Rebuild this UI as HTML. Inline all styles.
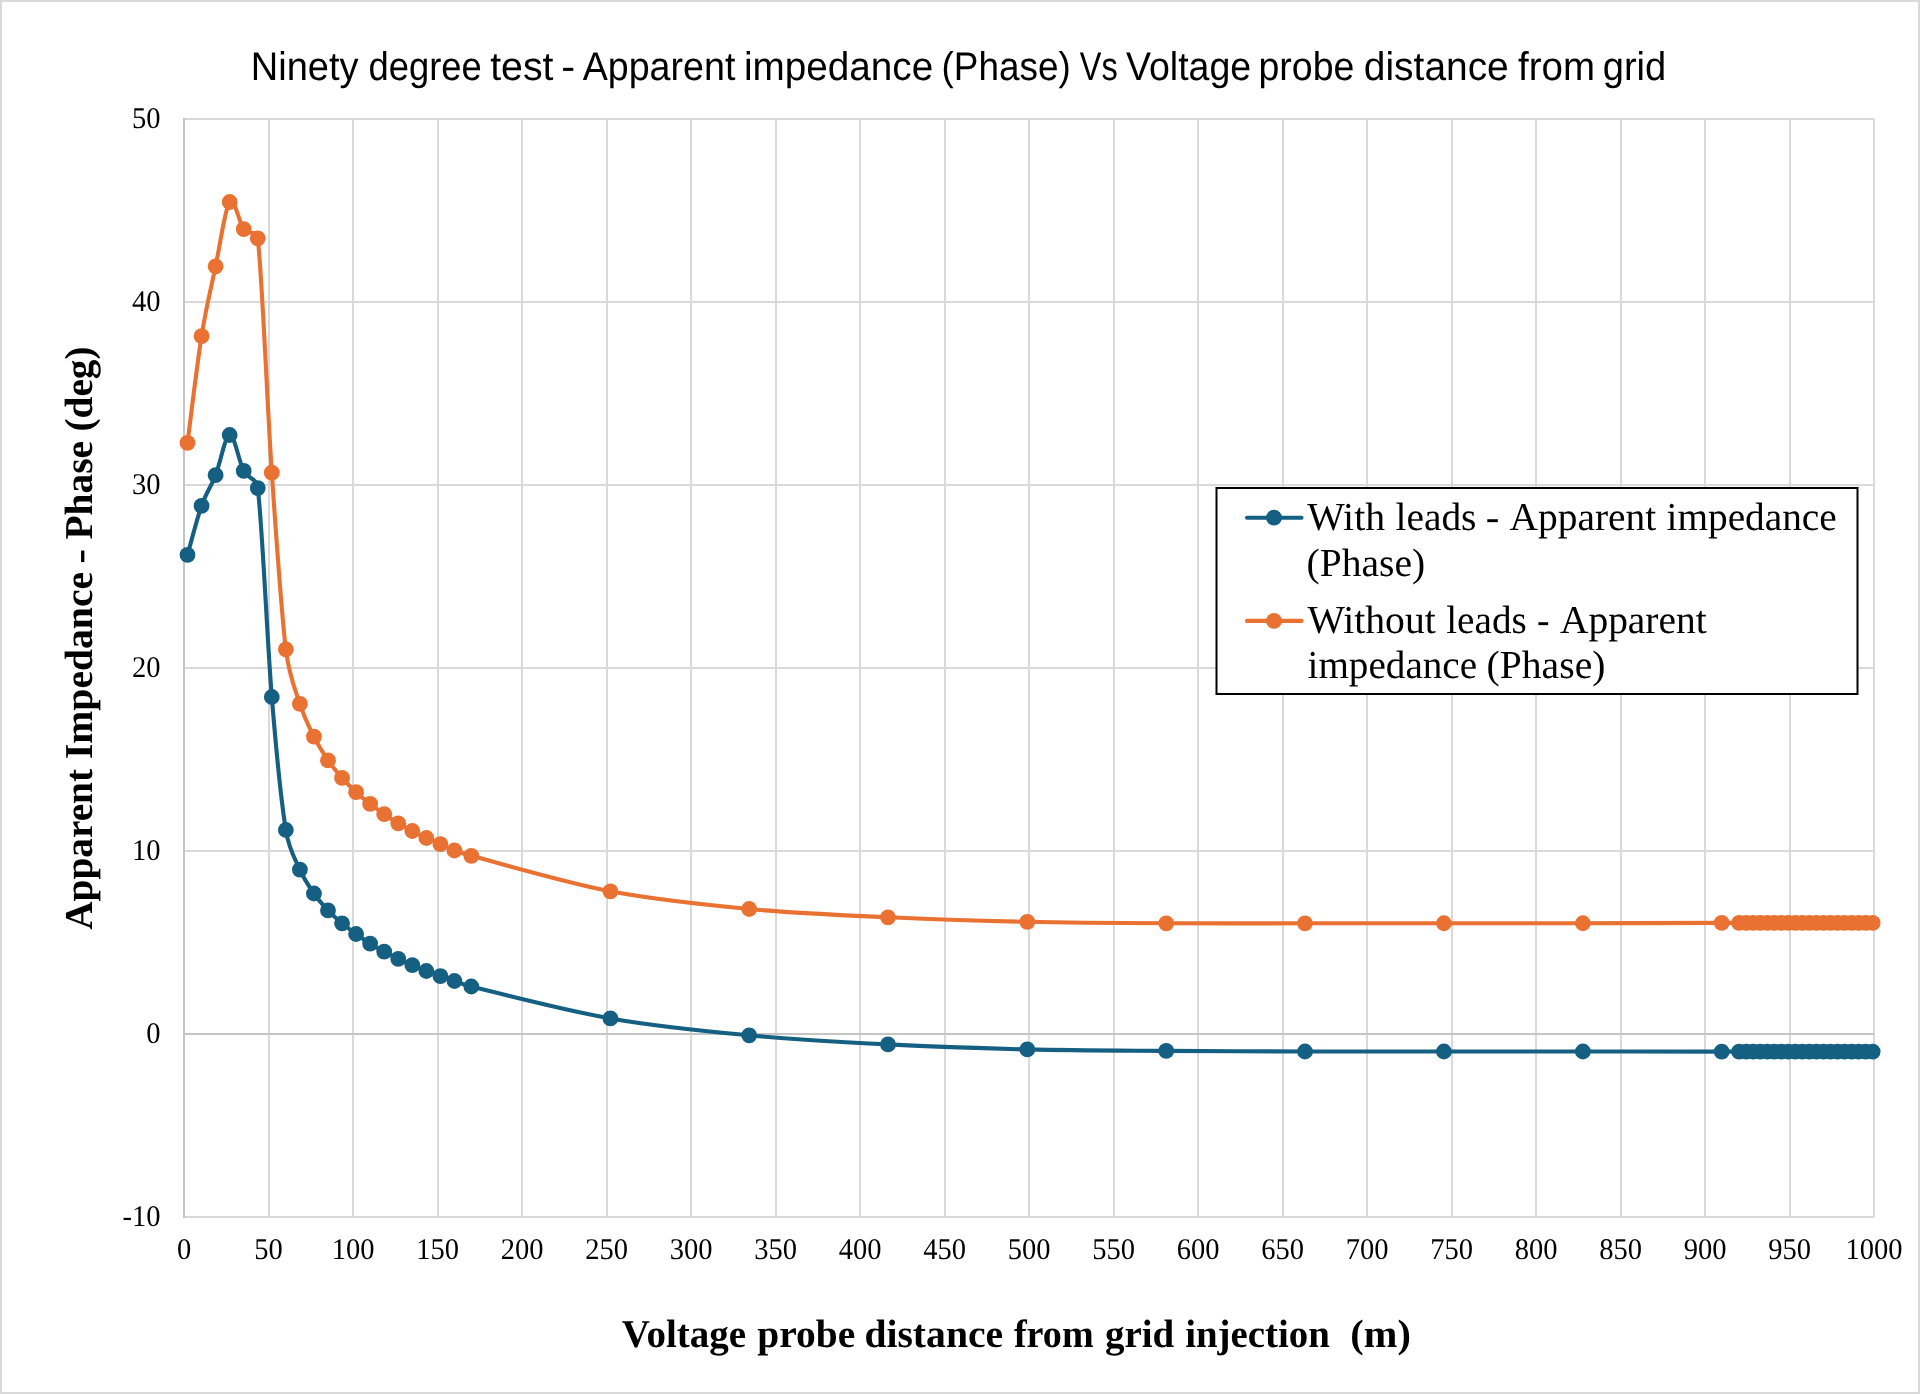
<!DOCTYPE html>
<html><head><meta charset="utf-8"><title>Ninety degree test chart</title>
<style>
html,body{margin:0;padding:0;background:#fff;width:1920px;height:1394px;overflow:hidden;font-family:"Liberation Sans",sans-serif;}
svg{display:block;will-change:transform;}
text{text-rendering:geometricPrecision;}
</style></head><body>
<svg width="1920" height="1394" viewBox="0 0 1920 1394">
<rect x="0" y="0" width="1920" height="1394" fill="#ffffff"/>
<rect x="1" y="1" width="1918" height="1392" fill="none" stroke="#d9d9d9" stroke-width="2"/>
<g stroke="#d9d9d9" stroke-width="2" fill="none"><line x1="269.00" y1="119.00" x2="269.00" y2="1217.00"/><line x1="353.00" y1="119.00" x2="353.00" y2="1217.00"/><line x1="438.00" y1="119.00" x2="438.00" y2="1217.00"/><line x1="522.00" y1="119.00" x2="522.00" y2="1217.00"/><line x1="607.00" y1="119.00" x2="607.00" y2="1217.00"/><line x1="691.00" y1="119.00" x2="691.00" y2="1217.00"/><line x1="776.00" y1="119.00" x2="776.00" y2="1217.00"/><line x1="860.00" y1="119.00" x2="860.00" y2="1217.00"/><line x1="945.00" y1="119.00" x2="945.00" y2="1217.00"/><line x1="1029.00" y1="119.00" x2="1029.00" y2="1217.00"/><line x1="1114.00" y1="119.00" x2="1114.00" y2="1217.00"/><line x1="1198.00" y1="119.00" x2="1198.00" y2="1217.00"/><line x1="1283.00" y1="119.00" x2="1283.00" y2="1217.00"/><line x1="1367.00" y1="119.00" x2="1367.00" y2="1217.00"/><line x1="1452.00" y1="119.00" x2="1452.00" y2="1217.00"/><line x1="1536.00" y1="119.00" x2="1536.00" y2="1217.00"/><line x1="1621.00" y1="119.00" x2="1621.00" y2="1217.00"/><line x1="1705.00" y1="119.00" x2="1705.00" y2="1217.00"/><line x1="1790.00" y1="119.00" x2="1790.00" y2="1217.00"/><line x1="1874.00" y1="119.00" x2="1874.00" y2="1217.00"/><line x1="184.00" y1="119.00" x2="1874.00" y2="119.00"/><line x1="184.00" y1="302.00" x2="1874.00" y2="302.00"/><line x1="184.00" y1="485.00" x2="1874.00" y2="485.00"/><line x1="184.00" y1="668.00" x2="1874.00" y2="668.00"/><line x1="184.00" y1="851.00" x2="1874.00" y2="851.00"/><line x1="184.00" y1="1217.00" x2="1874.00" y2="1217.00"/></g>
<g stroke="#c5c5c5" stroke-width="2" fill="none"><line x1="184.00" y1="118.00" x2="184.00" y2="1218.00"/><line x1="183.00" y1="1034.00" x2="1874.00" y2="1034.00"/></g>
<path d="M187.50,554.90 C189.84,546.72 196.87,519.08 201.55,505.80 C206.23,492.52 210.92,487.00 215.60,475.20 C220.28,463.40 224.97,435.72 229.65,435.00 C234.33,434.28 239.02,462.05 243.70,470.90 C248.38,479.75 256.38,477.08 257.75,488.10 C262.43,525.78 267.12,640.02 271.80,697.00 C276.48,753.98 281.17,801.23 285.85,830.00 C289.23,850.74 295.22,859.02 299.90,869.60 C304.58,880.18 309.27,886.70 313.95,893.50 C318.63,900.30 323.32,905.43 328.00,910.40 C332.68,915.37 337.37,919.37 342.05,923.30 C346.73,927.23 351.42,930.62 356.10,934.00 C360.78,937.38 365.47,940.65 370.15,943.60 C374.83,946.55 379.52,949.15 384.20,951.70 C388.88,954.25 393.57,956.67 398.25,958.90 C402.93,961.13 407.62,963.08 412.30,965.10 C416.98,967.12 421.67,969.15 426.35,971.00 C431.03,972.85 435.72,974.53 440.40,976.20 C445.08,977.87 449.30,979.28 454.45,981.00 C459.60,982.72 462.68,984.43 471.30,986.50 C497.29,992.73 564.08,1010.27 610.40,1018.40 C656.72,1026.53 702.93,1030.97 749.20,1035.30 C795.47,1039.63 841.65,1042.05 888.00,1044.40 C934.35,1046.75 980.93,1048.32 1027.30,1049.40 C1073.67,1050.48 1119.92,1050.55 1166.20,1050.90 C1212.48,1051.25 1258.72,1051.40 1305.00,1051.50 C1351.28,1051.60 1397.58,1051.50 1443.90,1051.50 C1490.22,1051.50 1536.60,1051.48 1582.90,1051.50 C1629.20,1051.52 1695.67,1051.58 1721.70,1051.60 C1730.40,1051.61 1735.03,1051.60 1739.10,1051.60 C1742.61,1051.60 1743.79,1051.60 1746.13,1051.60 C1748.47,1051.60 1750.82,1051.60 1753.16,1051.60 C1755.50,1051.60 1757.85,1051.60 1760.19,1051.60 C1762.53,1051.60 1764.88,1051.60 1767.22,1051.60 C1769.56,1051.60 1771.91,1051.60 1774.25,1051.60 C1776.59,1051.60 1778.94,1051.60 1781.28,1051.60 C1783.62,1051.60 1785.97,1051.60 1788.31,1051.60 C1790.65,1051.60 1793.00,1051.60 1795.34,1051.60 C1797.68,1051.60 1800.03,1051.60 1802.37,1051.60 C1804.71,1051.60 1807.06,1051.60 1809.40,1051.60 C1811.74,1051.60 1814.09,1051.60 1816.43,1051.60 C1818.77,1051.60 1821.12,1051.60 1823.46,1051.60 C1825.80,1051.60 1828.15,1051.60 1830.49,1051.60 C1832.83,1051.60 1835.18,1051.60 1837.52,1051.60 C1839.86,1051.60 1842.21,1051.60 1844.55,1051.60 C1846.89,1051.60 1849.24,1051.60 1851.58,1051.60 C1853.92,1051.60 1856.27,1051.60 1858.61,1051.60 C1860.95,1051.60 1863.30,1051.60 1865.64,1051.60 C1867.98,1051.60 1871.50,1051.60 1872.67,1051.60" fill="none" stroke="#156082" stroke-width="4.10" stroke-linejoin="round" stroke-linecap="round"/>
<g fill="#156082"><circle cx="187.50" cy="554.90" r="7.90"/><circle cx="201.55" cy="505.80" r="7.90"/><circle cx="215.60" cy="475.20" r="7.90"/><circle cx="229.65" cy="435.00" r="7.90"/><circle cx="243.70" cy="470.90" r="7.90"/><circle cx="257.75" cy="488.10" r="7.90"/><circle cx="271.80" cy="697.00" r="7.90"/><circle cx="285.85" cy="830.00" r="7.90"/><circle cx="299.90" cy="869.60" r="7.90"/><circle cx="313.95" cy="893.50" r="7.90"/><circle cx="328.00" cy="910.40" r="7.90"/><circle cx="342.05" cy="923.30" r="7.90"/><circle cx="356.10" cy="934.00" r="7.90"/><circle cx="370.15" cy="943.60" r="7.90"/><circle cx="384.20" cy="951.70" r="7.90"/><circle cx="398.25" cy="958.90" r="7.90"/><circle cx="412.30" cy="965.10" r="7.90"/><circle cx="426.35" cy="971.00" r="7.90"/><circle cx="440.40" cy="976.20" r="7.90"/><circle cx="454.45" cy="981.00" r="7.90"/><circle cx="471.30" cy="986.50" r="7.90"/><circle cx="610.40" cy="1018.40" r="7.90"/><circle cx="749.20" cy="1035.30" r="7.90"/><circle cx="888.00" cy="1044.40" r="7.90"/><circle cx="1027.30" cy="1049.40" r="7.90"/><circle cx="1166.20" cy="1050.90" r="7.90"/><circle cx="1305.00" cy="1051.50" r="7.90"/><circle cx="1443.90" cy="1051.50" r="7.90"/><circle cx="1582.90" cy="1051.50" r="7.90"/><circle cx="1721.70" cy="1051.60" r="7.90"/><circle cx="1739.10" cy="1051.60" r="7.90"/><circle cx="1746.13" cy="1051.60" r="7.90"/><circle cx="1753.16" cy="1051.60" r="7.90"/><circle cx="1760.19" cy="1051.60" r="7.90"/><circle cx="1767.22" cy="1051.60" r="7.90"/><circle cx="1774.25" cy="1051.60" r="7.90"/><circle cx="1781.28" cy="1051.60" r="7.90"/><circle cx="1788.31" cy="1051.60" r="7.90"/><circle cx="1795.34" cy="1051.60" r="7.90"/><circle cx="1802.37" cy="1051.60" r="7.90"/><circle cx="1809.40" cy="1051.60" r="7.90"/><circle cx="1816.43" cy="1051.60" r="7.90"/><circle cx="1823.46" cy="1051.60" r="7.90"/><circle cx="1830.49" cy="1051.60" r="7.90"/><circle cx="1837.52" cy="1051.60" r="7.90"/><circle cx="1844.55" cy="1051.60" r="7.90"/><circle cx="1851.58" cy="1051.60" r="7.90"/><circle cx="1858.61" cy="1051.60" r="7.90"/><circle cx="1865.64" cy="1051.60" r="7.90"/><circle cx="1872.67" cy="1051.60" r="7.90"/></g>
<path d="M187.50,442.80 C189.84,425.02 196.87,365.52 201.55,336.10 C206.23,306.68 210.92,288.65 215.60,266.30 C220.28,243.95 224.97,208.20 229.65,202.00 C234.33,195.80 239.02,223.05 243.70,229.10 C248.38,235.15 256.79,229.96 257.75,238.30 C262.43,278.89 267.12,404.15 271.80,472.65 C276.48,541.15 281.17,610.76 285.85,649.30 C289.25,677.28 295.22,689.33 299.90,703.90 C304.58,718.47 309.27,727.30 313.95,736.70 C318.63,746.10 323.32,753.43 328.00,760.30 C332.68,767.17 337.37,772.58 342.05,777.90 C346.73,783.22 351.42,787.87 356.10,792.20 C360.78,796.53 365.47,800.23 370.15,803.90 C374.83,807.57 379.52,810.97 384.20,814.20 C388.88,817.43 393.57,820.50 398.25,823.30 C402.93,826.10 407.62,828.55 412.30,831.00 C416.98,833.45 421.67,835.80 426.35,838.00 C431.03,840.20 435.72,842.12 440.40,844.20 C445.08,846.28 449.30,848.57 454.45,850.50 C459.60,852.43 462.76,853.56 471.30,855.80 C497.29,862.60 564.08,882.43 610.40,891.30 C656.72,900.17 702.93,904.67 749.20,909.00 C795.47,913.33 841.65,915.17 888.00,917.30 C934.35,919.43 980.93,920.80 1027.30,921.80 C1073.67,922.80 1119.92,923.05 1166.20,923.30 C1212.48,923.55 1258.72,923.31 1305.00,923.30 C1351.28,923.29 1397.58,923.26 1443.90,923.25 C1490.22,923.24 1536.60,923.31 1582.90,923.25 C1629.20,923.19 1695.67,922.96 1721.70,922.90 C1730.40,922.88 1735.03,922.90 1739.10,922.90 C1742.61,922.90 1743.79,922.90 1746.13,922.90 C1748.47,922.90 1750.82,922.90 1753.16,922.90 C1755.50,922.90 1757.85,922.90 1760.19,922.90 C1762.53,922.90 1764.88,922.90 1767.22,922.90 C1769.56,922.90 1771.91,922.90 1774.25,922.90 C1776.59,922.90 1778.94,922.90 1781.28,922.90 C1783.62,922.90 1785.97,922.90 1788.31,922.90 C1790.65,922.90 1793.00,922.90 1795.34,922.90 C1797.68,922.90 1800.03,922.90 1802.37,922.90 C1804.71,922.90 1807.06,922.90 1809.40,922.90 C1811.74,922.90 1814.09,922.90 1816.43,922.90 C1818.77,922.90 1821.12,922.90 1823.46,922.90 C1825.80,922.90 1828.15,922.90 1830.49,922.90 C1832.83,922.90 1835.18,922.90 1837.52,922.90 C1839.86,922.90 1842.21,922.90 1844.55,922.90 C1846.89,922.90 1849.24,922.90 1851.58,922.90 C1853.92,922.90 1856.27,922.90 1858.61,922.90 C1860.95,922.90 1863.30,922.90 1865.64,922.90 C1867.98,922.90 1871.50,922.90 1872.67,922.90" fill="none" stroke="#E97132" stroke-width="4.10" stroke-linejoin="round" stroke-linecap="round"/>
<g fill="#E97132"><circle cx="187.50" cy="442.80" r="7.90"/><circle cx="201.55" cy="336.10" r="7.90"/><circle cx="215.60" cy="266.30" r="7.90"/><circle cx="229.65" cy="202.00" r="7.90"/><circle cx="243.70" cy="229.10" r="7.90"/><circle cx="257.75" cy="238.30" r="7.90"/><circle cx="271.80" cy="472.65" r="7.90"/><circle cx="285.85" cy="649.30" r="7.90"/><circle cx="299.90" cy="703.90" r="7.90"/><circle cx="313.95" cy="736.70" r="7.90"/><circle cx="328.00" cy="760.30" r="7.90"/><circle cx="342.05" cy="777.90" r="7.90"/><circle cx="356.10" cy="792.20" r="7.90"/><circle cx="370.15" cy="803.90" r="7.90"/><circle cx="384.20" cy="814.20" r="7.90"/><circle cx="398.25" cy="823.30" r="7.90"/><circle cx="412.30" cy="831.00" r="7.90"/><circle cx="426.35" cy="838.00" r="7.90"/><circle cx="440.40" cy="844.20" r="7.90"/><circle cx="454.45" cy="850.50" r="7.90"/><circle cx="471.30" cy="855.80" r="7.90"/><circle cx="610.40" cy="891.30" r="7.90"/><circle cx="749.20" cy="909.00" r="7.90"/><circle cx="888.00" cy="917.30" r="7.90"/><circle cx="1027.30" cy="921.80" r="7.90"/><circle cx="1166.20" cy="923.30" r="7.90"/><circle cx="1305.00" cy="923.30" r="7.90"/><circle cx="1443.90" cy="923.25" r="7.90"/><circle cx="1582.90" cy="923.25" r="7.90"/><circle cx="1721.70" cy="922.90" r="7.90"/><circle cx="1739.10" cy="922.90" r="7.90"/><circle cx="1746.13" cy="922.90" r="7.90"/><circle cx="1753.16" cy="922.90" r="7.90"/><circle cx="1760.19" cy="922.90" r="7.90"/><circle cx="1767.22" cy="922.90" r="7.90"/><circle cx="1774.25" cy="922.90" r="7.90"/><circle cx="1781.28" cy="922.90" r="7.90"/><circle cx="1788.31" cy="922.90" r="7.90"/><circle cx="1795.34" cy="922.90" r="7.90"/><circle cx="1802.37" cy="922.90" r="7.90"/><circle cx="1809.40" cy="922.90" r="7.90"/><circle cx="1816.43" cy="922.90" r="7.90"/><circle cx="1823.46" cy="922.90" r="7.90"/><circle cx="1830.49" cy="922.90" r="7.90"/><circle cx="1837.52" cy="922.90" r="7.90"/><circle cx="1844.55" cy="922.90" r="7.90"/><circle cx="1851.58" cy="922.90" r="7.90"/><circle cx="1858.61" cy="922.90" r="7.90"/><circle cx="1865.64" cy="922.90" r="7.90"/><circle cx="1872.67" cy="922.90" r="7.90"/></g>
<g font-family="Liberation Sans, sans-serif" font-size="40" fill="#000"><text x="250.77" y="79.7" textLength="107.71" lengthAdjust="spacingAndGlyphs">Ninety</text><text x="368.55" y="79.7" textLength="113.24" lengthAdjust="spacingAndGlyphs">degree</text><text x="490.21" y="79.7" textLength="63.26" lengthAdjust="spacingAndGlyphs">test</text><text x="561.23" y="79.7" textLength="13.87" lengthAdjust="spacingAndGlyphs">-</text><text x="582.71" y="79.7" textLength="152.62" lengthAdjust="spacingAndGlyphs">Apparent</text><text x="743.89" y="79.7" textLength="189.34" lengthAdjust="spacingAndGlyphs">impedance</text><text x="941.59" y="79.7" textLength="129.17" lengthAdjust="spacingAndGlyphs">(Phase)</text><text x="1079.74" y="79.7" textLength="37.88" lengthAdjust="spacingAndGlyphs">Vs</text><text x="1126.01" y="79.7" textLength="125.14" lengthAdjust="spacingAndGlyphs">Voltage</text><text x="1258.46" y="79.7" textLength="95.94" lengthAdjust="spacingAndGlyphs">probe</text><text x="1363.85" y="79.7" textLength="144.89" lengthAdjust="spacingAndGlyphs">distance</text><text x="1518.02" y="79.7" textLength="76.88" lengthAdjust="spacingAndGlyphs">from</text><text x="1602.78" y="79.7" textLength="63.50" lengthAdjust="spacingAndGlyphs">grid</text></g>
<g font-family="Liberation Serif, serif" font-size="30.0" fill="#000"><text x="160.4" y="128.00" text-anchor="end" textLength="28.50" lengthAdjust="spacingAndGlyphs">50</text><text x="160.4" y="311.00" text-anchor="end" textLength="28.50" lengthAdjust="spacingAndGlyphs">40</text><text x="160.4" y="494.00" text-anchor="end" textLength="28.50" lengthAdjust="spacingAndGlyphs">30</text><text x="160.4" y="677.00" text-anchor="end" textLength="28.50" lengthAdjust="spacingAndGlyphs">20</text><text x="160.4" y="860.00" text-anchor="end" textLength="28.50" lengthAdjust="spacingAndGlyphs">10</text><text x="160.4" y="1043.00" text-anchor="end" textLength="14.25" lengthAdjust="spacingAndGlyphs">0</text><text x="160.4" y="1226.00" text-anchor="end" textLength="37.99" lengthAdjust="spacingAndGlyphs">-10</text><text x="184.00" y="1259.1" text-anchor="middle" textLength="14.25" lengthAdjust="spacingAndGlyphs">0</text><text x="268.50" y="1259.1" text-anchor="middle" textLength="28.50" lengthAdjust="spacingAndGlyphs">50</text><text x="353.00" y="1259.1" text-anchor="middle" textLength="42.75" lengthAdjust="spacingAndGlyphs">100</text><text x="437.50" y="1259.1" text-anchor="middle" textLength="42.75" lengthAdjust="spacingAndGlyphs">150</text><text x="522.00" y="1259.1" text-anchor="middle" textLength="42.75" lengthAdjust="spacingAndGlyphs">200</text><text x="606.50" y="1259.1" text-anchor="middle" textLength="42.75" lengthAdjust="spacingAndGlyphs">250</text><text x="691.00" y="1259.1" text-anchor="middle" textLength="42.75" lengthAdjust="spacingAndGlyphs">300</text><text x="775.50" y="1259.1" text-anchor="middle" textLength="42.75" lengthAdjust="spacingAndGlyphs">350</text><text x="860.00" y="1259.1" text-anchor="middle" textLength="42.75" lengthAdjust="spacingAndGlyphs">400</text><text x="944.50" y="1259.1" text-anchor="middle" textLength="42.75" lengthAdjust="spacingAndGlyphs">450</text><text x="1029.00" y="1259.1" text-anchor="middle" textLength="42.75" lengthAdjust="spacingAndGlyphs">500</text><text x="1113.50" y="1259.1" text-anchor="middle" textLength="42.75" lengthAdjust="spacingAndGlyphs">550</text><text x="1198.00" y="1259.1" text-anchor="middle" textLength="42.75" lengthAdjust="spacingAndGlyphs">600</text><text x="1282.50" y="1259.1" text-anchor="middle" textLength="42.75" lengthAdjust="spacingAndGlyphs">650</text><text x="1367.00" y="1259.1" text-anchor="middle" textLength="42.75" lengthAdjust="spacingAndGlyphs">700</text><text x="1451.50" y="1259.1" text-anchor="middle" textLength="42.75" lengthAdjust="spacingAndGlyphs">750</text><text x="1536.00" y="1259.1" text-anchor="middle" textLength="42.75" lengthAdjust="spacingAndGlyphs">800</text><text x="1620.50" y="1259.1" text-anchor="middle" textLength="42.75" lengthAdjust="spacingAndGlyphs">850</text><text x="1705.00" y="1259.1" text-anchor="middle" textLength="42.75" lengthAdjust="spacingAndGlyphs">900</text><text x="1789.50" y="1259.1" text-anchor="middle" textLength="42.75" lengthAdjust="spacingAndGlyphs">950</text><text x="1874.00" y="1259.1" text-anchor="middle" textLength="57.00" lengthAdjust="spacingAndGlyphs">1000</text></g>
<g font-family="Liberation Serif, serif" font-weight="bold" font-size="39.5" fill="#000"><text x="621.81" y="1347.4" textLength="124.37" lengthAdjust="spacingAndGlyphs">Voltage</text><text x="757.21" y="1347.4" textLength="98.06" lengthAdjust="spacingAndGlyphs">probe</text><text x="864.42" y="1347.4" textLength="138.68" lengthAdjust="spacingAndGlyphs">distance</text><text x="1013.91" y="1347.4" textLength="79.73" lengthAdjust="spacingAndGlyphs">from</text><text x="1105.03" y="1347.4" textLength="69.28" lengthAdjust="spacingAndGlyphs">grid</text><text x="1185.13" y="1347.4" textLength="144.73" lengthAdjust="spacingAndGlyphs">injection</text><text x="1350.38" y="1347.4" textLength="60.49" lengthAdjust="spacingAndGlyphs">(m)</text></g>
<g transform="translate(91.6,930.00) rotate(-90)" font-family="Liberation Serif, serif" font-weight="bold" font-size="39.5" fill="#000"><text x="0.21" y="0" textLength="160.82" lengthAdjust="spacingAndGlyphs">Apparent</text><text x="170.91" y="0" textLength="187.17" lengthAdjust="spacingAndGlyphs">Impedance</text><text x="366.33" y="0" textLength="14.86" lengthAdjust="spacingAndGlyphs">-</text><text x="390.51" y="0" textLength="98.58" lengthAdjust="spacingAndGlyphs">Phase</text><text x="498.43" y="0" textLength="85.18" lengthAdjust="spacingAndGlyphs">(deg)</text></g>
<rect x="1216.5" y="488" width="641" height="206" fill="#ffffff" stroke="#000" stroke-width="2"/>
<line x1="1247" y1="517.70" x2="1301.5" y2="517.70" stroke="#156082" stroke-width="4.10" stroke-linecap="round"/>
<circle cx="1274" cy="517.70" r="7.90" fill="#156082"/>
<line x1="1247" y1="620.90" x2="1301.5" y2="620.90" stroke="#E97132" stroke-width="4.10" stroke-linecap="round"/>
<circle cx="1274" cy="620.90" r="7.90" fill="#E97132"/>
<g font-family="Liberation Serif, serif" font-size="39.6" fill="#000"><text x="1307.20" y="529.9" textLength="77.88" lengthAdjust="spacingAndGlyphs">With</text><text x="1395.46" y="529.9" textLength="81.01" lengthAdjust="spacingAndGlyphs">leads</text><text x="1485.87" y="529.9" textLength="13.58" lengthAdjust="spacingAndGlyphs">-</text><text x="1509.61" y="529.9" textLength="146.52" lengthAdjust="spacingAndGlyphs">Apparent</text><text x="1666.51" y="529.9" textLength="170.21" lengthAdjust="spacingAndGlyphs">impedance</text><text x="1306.52" y="575.5" textLength="118.73" lengthAdjust="spacingAndGlyphs">(Phase)</text><text x="1307.40" y="633.1" textLength="128.39" lengthAdjust="spacingAndGlyphs">Without</text><text x="1446.22" y="633.1" textLength="80.54" lengthAdjust="spacingAndGlyphs">leads</text><text x="1537.09" y="633.1" textLength="12.55" lengthAdjust="spacingAndGlyphs">-</text><text x="1559.91" y="633.1" textLength="146.82" lengthAdjust="spacingAndGlyphs">Apparent</text><text x="1307.52" y="677.8" textLength="169.60" lengthAdjust="spacingAndGlyphs">impedance</text><text x="1486.52" y="677.8" textLength="118.93" lengthAdjust="spacingAndGlyphs">(Phase)</text></g>
</svg>
</body></html>
